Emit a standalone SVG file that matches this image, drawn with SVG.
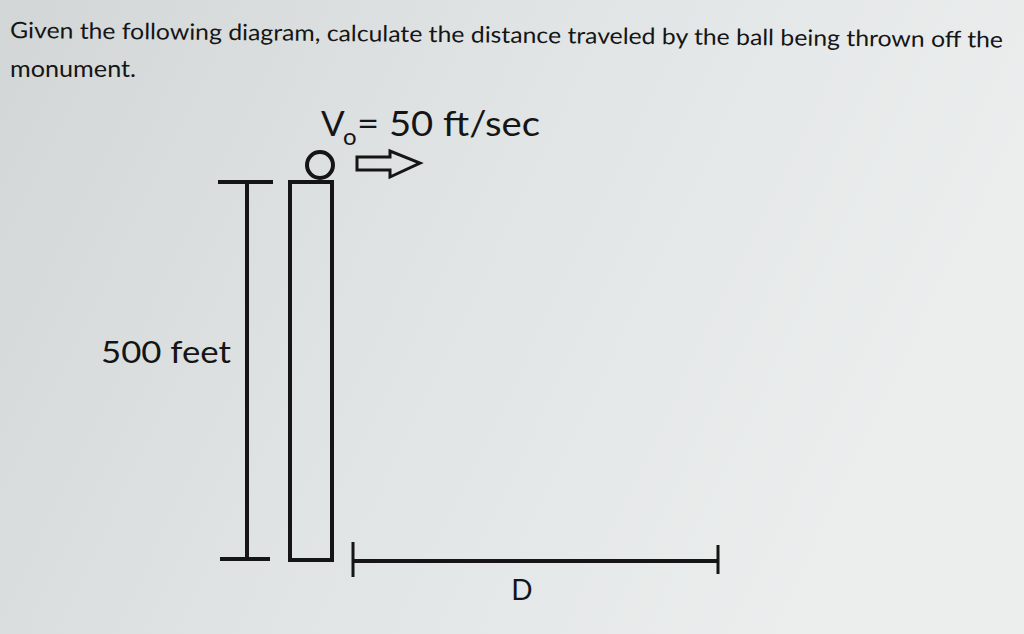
<svg xmlns="http://www.w3.org/2000/svg" width="1024" height="634" viewBox="0 0 1024 634">
<defs>
<linearGradient id="bg" x1="0" y1="0" x2="1" y2="0.3">
<stop offset="0" stop-color="#d2d6d6"/>
<stop offset="0.5" stop-color="#e0e4e4"/>
<stop offset="1" stop-color="#eceeee"/>
</linearGradient>
</defs>
<style>
text{font-family:Lato,"Liberation Sans",sans-serif;fill:#151515}
.ln{stroke:#151515;stroke-width:4;fill:none;stroke-linecap:butt}
.thin{stroke:#151515;stroke-width:3;fill:none}
</style>
<rect width="1024" height="634" fill="url(#bg)"/>
<g id="title">
<text x="10" y="38" font-size="22.5" textLength="993" lengthAdjust="spacingAndGlyphs" transform="rotate(0.55 10 38)">Given the following diagram, calculate the distance traveled by the ball being thrown off the</text>
<text x="10" y="77" font-size="22.5" textLength="126" lengthAdjust="spacingAndGlyphs">monument.</text>
</g>
<g id="velocity">
<text x="321" y="136" font-size="35">V<tspan x="343" y="145" font-size="24">o</tspan><tspan x="357" y="136" font-size="35" textLength="183" lengthAdjust="spacingAndGlyphs">= 50 ft/sec</tspan></text>
</g>
<g id="ball">
<circle cx="320" cy="165" r="13" class="ln"/>
</g>
<g id="arrow">
<path d="M357 157 H390 V151 L420 163 L390 177 V170 H357 Z" class="thin" stroke-width="2.5" stroke-linejoin="miter"/>
</g>
<g id="monument">
<rect x="290" y="182" width="42" height="378" class="ln"/>
</g>
<g id="height-dim">
<line x1="218" y1="182" x2="273" y2="182" class="ln"/>
<line x1="247" y1="182" x2="247" y2="559" class="ln"/>
<line x1="220" y1="559" x2="270" y2="559" class="ln"/>
<text x="101" y="363" font-size="31" textLength="130" lengthAdjust="spacingAndGlyphs">500 feet</text>
</g>
<g id="distance-dim">
<line x1="353" y1="542" x2="353" y2="577" class="thin"/>
<line x1="353" y1="561" x2="718" y2="561" class="ln"/>
<line x1="718" y1="545" x2="718" y2="574" class="thin"/>
<text x="522" y="600" font-size="28" text-anchor="middle">D</text>
</g>
</svg>
